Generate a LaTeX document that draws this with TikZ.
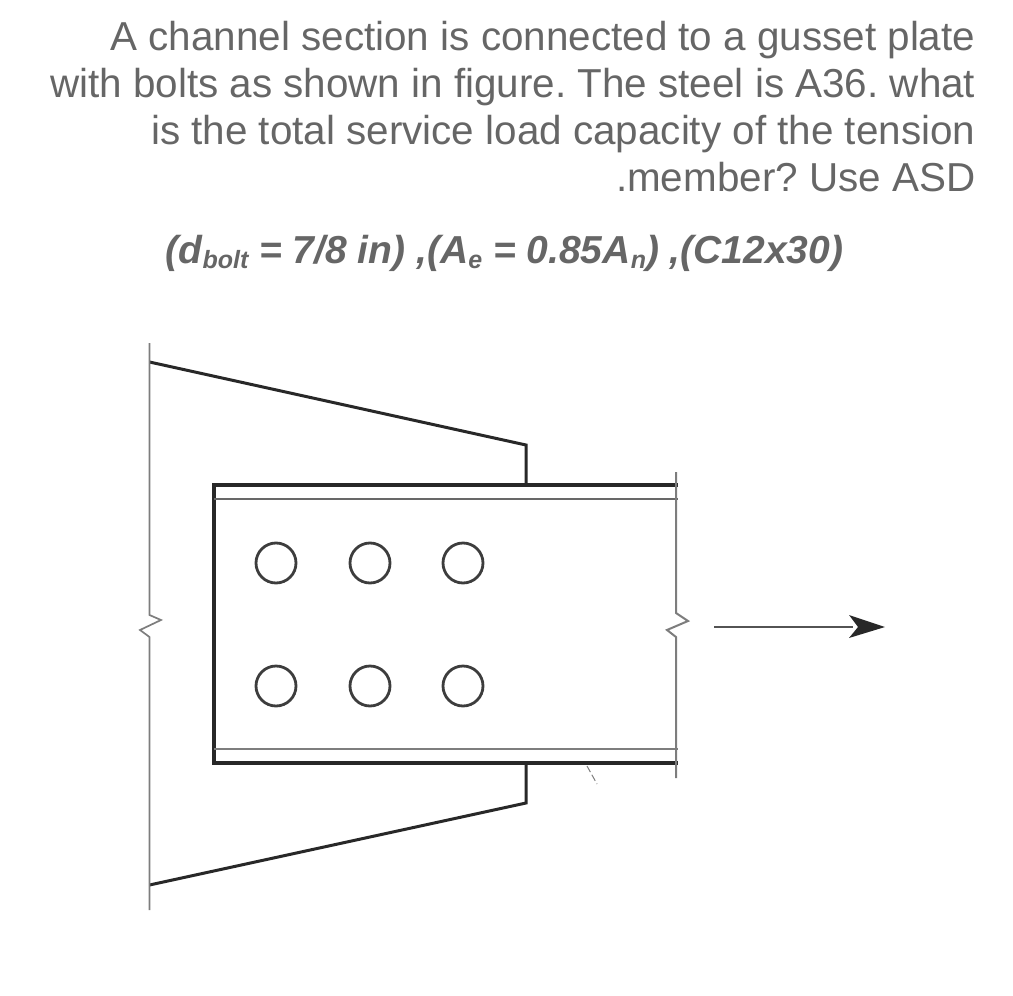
\documentclass[tikz,border=0pt]{standalone}
\usepackage{fontspec}
\usepackage{xcolor}
\setmainfont{Liberation Sans}
\frenchspacing
\definecolor{textgray}{RGB}{102,102,102}
\definecolor{edgegray}{RGB}{40,40,40}
\definecolor{thingray}{RGB}{125,125,125}
\newcommand{\smallsub}[1]{\raisebox{-0.28ex}{\fontsize{25}{25}\selectfont #1}}

\tikzset{
	thickline/.style={draw=edgegray,line width=3.2pt},
	midline/.style={draw=edgegray,line width=3pt},
	thinline/.style={draw=thingray,line width=1.7pt},
	hole/.style={circle,draw=edgegray!90,line width=2.8pt,minimum size=40pt,inner sep=0pt}
}

\begin{document}
\begin{tikzpicture}[x=1pt,y=-1pt]
	\useasboundingbox (0,0) rectangle (1013,996);
	
	% texte
	\node[anchor=north east,
	inner sep=0pt,
	text=textgray,
	font=\fontsize{40.4}{47}\selectfont,
	align=right] (question) at (975.5,21) {
		A channel section is connected to a gusset plate\\
		with bolts as shown in figure. The steel is A36. what\\
		is the total service load capacity of the tension\\
		.member? Use ASD
	};
	\node[inner sep=0pt,
	text=textgray,
	font=\fontsize{39}{44}\selectfont\bfseries\itshape,
	align=center] (data) at (510,253) {
		(d\smallsub{bolt} = 7/8 in) ,(A\smallsub{e} = 0.85A\smallsub{n}) ,(C12x30)
	};
	
	% gousset
	\coordinate (gtop) at (149.5,362);
	\coordinate (gtopr) at (526,445);
	\coordinate (gtopc) at (526,485);
	\coordinate (gbot) at (149.5,885);
	\coordinate (gbotr) at (526,803);
	\coordinate (gbotc) at (526,763);
	\draw[midline,line join=miter] (gtop) -- (gtopr) -- (gtopc);
	\draw[midline,line join=miter] (gbot) -- (gbotr) -- (gbotc);
	
	% ligne de coupe gauche
	\draw[thinline] (149.5,343) -- (149.5,615) -- (161,620) -- (140,630) -- (149.5,637) -- (149.5,910);
	
	% profil en U
	\coordinate (tl) at (214,485);
	\coordinate (tr) at (678,485);
	\coordinate (bl) at (214,763);
	\coordinate (br) at (678,763);
	\draw[thickline,line join=miter] (tr) -- (tl) -- (bl) -- (br);
	\draw[thinline,draw=edgegray!70] (tl |- 0,499) -- (tr |- 0,499);
	\draw[thinline,draw=edgegray!60] (bl |- 0,749) -- (br |- 0,749);
	
	% ligne de coupe droite
	\draw[thinline,line width=2pt] (676,472) -- (676,613) -- (688,621) -- (667,630) -- (676,637) -- (676,778);
	
	% trous
	\foreach \name/\xpos in {a/276,b/370,c/463}{
		\node[hole] (top\name) at (\xpos,563) {};
		\node[hole] (low\name) at (\xpos,686) {};
	}
	
	% effort
	\coordinate (loadstart) at (714,627);
	\coordinate (loadend) at (885,627);
	\draw[thinline,draw=edgegray!80] (loadstart) -- (853,627);
	\fill[edgegray] (loadend) -- (849,615) -- (858,627) -- (849,638) -- cycle;
	
	% petit trait
	\draw[thinline,line width=1pt,dash pattern=on 7pt off 3pt] (587,766) -- (597,784);
\end{tikzpicture}
\end{document}
